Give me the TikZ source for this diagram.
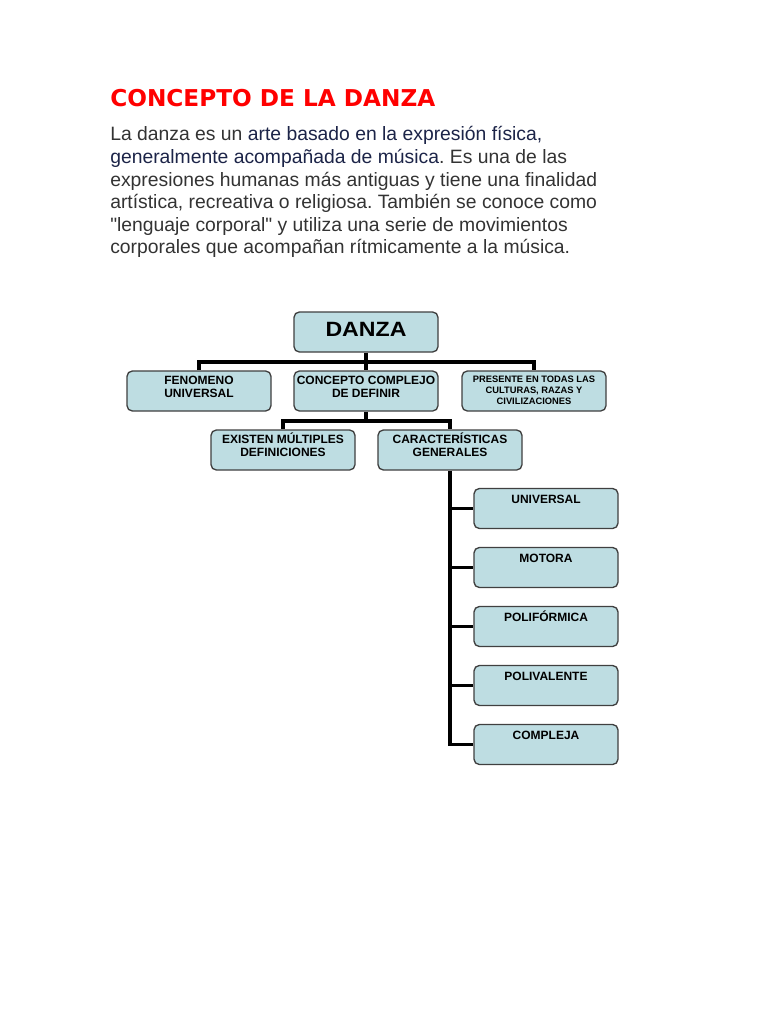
\documentclass[tikz,border=0pt]{standalone}
\usepackage{fontspec}
\setmainfont{Liberation Sans}[Ligatures=TeXOff]
\newfontfamily\titlefont{DejaVu Sans}
\definecolor{bodygray}{RGB}{51,51,51}
\definecolor{linknavy}{RGB}{28,36,72}
\definecolor{boxfill}{RGB}{190,221,226}
\definecolor{boxline}{RGB}{64,64,64}
\newcommand\bxtext[4]{\parbox[c][30pt][t]{106pt}{\centering\fontsize{#2}{#3}\selectfont\rule{0pt}{#1}#4}}
\frenchspacing
\begin{document}
\begin{tikzpicture}[x=0.75pt,y=-0.75pt,
  bodyline/.style={anchor=base west, inner sep=0, text=bodygray, font=\fontsize{14.5}{16}\selectfont},
  dbox/.style={draw=boxline, line width=1pt, fill=boxfill, rounded corners=4pt,
    minimum width=108pt, minimum height=30pt, inner sep=0, font=\bfseries},
  conn/.style={draw=black, line width=2.5pt}]
\useasboundingbox[fill=white] (0,0) rectangle (768,1024);
% title and paragraph
\node[anchor=base west, inner sep=0, text=red, font=\titlefont\bfseries\fontsize{17.4}{19}\selectfont] (title) at (110,106) {CONCEPTO DE LA DANZA};
\node[bodyline] (l1) at (110,140) {La danza es un \textcolor{linknavy}{arte basado en la expresión física,}};
\node[bodyline] (l2) at (110,163) {\textcolor{linknavy}{generalmente acompañada de música}. Es una de las};
\node[bodyline] (l3) at (110,186) {expresiones humanas más antiguas y tiene una finalidad};
\node[bodyline] (l4) at (110,208) {artística, recreativa o religiosa. También se conoce como};
\node[bodyline] (l5) at (110,231) {"lenguaje corporal" y utiliza una serie de movimientos};
\node[bodyline] (l6) at (110,253) {corporales que acompañan rítmicamente a la música.};
% diagram boxes
\node[dbox] (danza) at (366,332) {\bxtext{18pt}{15.5}{18}{\scalebox{1.12}[1]{DANZA}}};
\node[dbox] (fen) at (199,391) {\bxtext{10.1pt}{9}{9.75}{FENOMENO\\UNIVERSAL}};
\node[dbox] (conc) at (366,391) {\bxtext{10.1pt}{9}{9.75}{CONCEPTO COMPLEJO\\DE DEFINIR}};
\node[dbox] (pres) at (534,391) {\bxtext{8.6pt}{7}{8.25}{PRESENTE EN TODAS LAS\\CULTURAS, RAZAS Y\\CIVILIZACIONES}};
\node[dbox] (exis) at (283,450) {\bxtext{10.1pt}{9}{9.75}{EXISTEN MÚLTIPLES\\DEFINICIONES}};
\node[dbox] (car) at (450,450) {\bxtext{10.1pt}{9}{9.75}{CARACTERÍSTICAS\\GENERALES}};
\node[dbox] (univ) at (546,508.5) {\bxtext{10.9pt}{9}{9.75}{UNIVERSAL}};
\node[dbox] (mot) at (546,567.5) {\bxtext{10.9pt}{9}{9.75}{MOTORA}};
\node[dbox] (poli) at (546,626.5) {\bxtext{10.9pt}{9}{9.75}{POLIFÓRMICA}};
\node[dbox] (polv) at (546,685.5) {\bxtext{10.9pt}{9}{9.75}{POLIVALENTE}};
\node[dbox] (comp) at (546,744.5) {\bxtext{10.9pt}{9}{9.75}{COMPLEJA}};
% bus levels
\coordinate (bus1) at (0,362);
\coordinate (bus2) at (0,421);
% connectors
\draw[conn] (danza.south) -- (conc.north);
\draw[conn] (fen.north) -- (fen.north |- bus1) -- (pres.north |- bus1) -- (pres.north);
\draw[conn] (conc.south) -- (conc.south |- bus2);
\draw[conn] (exis.north) -- (exis.north |- bus2) -- (car.north |- bus2) -- (car.north);
\draw[conn] (car.south) |- (comp.west);
\draw[conn] (car.south |- univ.west) -- (univ.west);
\draw[conn] (car.south |- mot.west) -- (mot.west);
\draw[conn] (car.south |- poli.west) -- (poli.west);
\draw[conn] (car.south |- polv.west) -- (polv.west);
\end{tikzpicture}
\end{document}
